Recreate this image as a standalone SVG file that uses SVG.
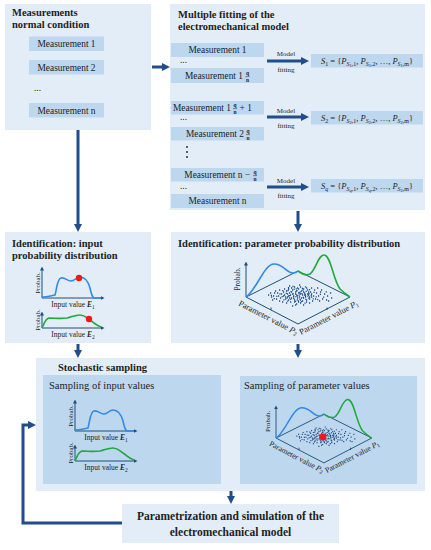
<svg xmlns="http://www.w3.org/2000/svg" xmlns:xlink="http://www.w3.org/1999/xlink" width="431" height="550" viewBox="0 0 431 550">
<style>
.box{fill:#e2edf8}
.mbox{fill:#bdd7ee}
.t{font-family:"Liberation Serif","Times New Roman",serif;fill:#1e1e1e}
.h{font-weight:bold;font-size:10.5px}
.m{font-size:9.4px}
.sm{font-size:7px}
.fr{font-size:5.5px;font-weight:bold}
.math{font-size:8.5px}
.it{font-style:italic}
.sb{font-size:6px}
.ssb{font-size:4.5px}
.conn{stroke:#1f4e8a;stroke-width:3;fill:none}
.ax{stroke:#1f4e79;stroke-width:1;fill:none}
.blue{stroke:#2f8ae8;stroke-width:1.6;fill:none}
.green{stroke:#1faa3c;stroke-width:1.6;fill:none}
.red{fill:#f01818}
.ct{font-size:7.5px}
</style>
<defs>
<marker id="ah" viewBox="0 0 8 8" refX="1" refY="4" markerWidth="8" markerHeight="8" markerUnits="userSpaceOnUse" orient="auto"><path d="M0 0L8 4L0 8z" fill="#1f4e8a"/></marker>
<marker id="sa" viewBox="0 0 8 8" refX="1" refY="4" markerWidth="4" markerHeight="4" markerUnits="userSpaceOnUse" orient="auto"><path d="M0 0L8 4L0 8z" fill="#1f4e79"/></marker>
<g id="ichart">
<path class="ax" d="M42 298V270" marker-end="url(#sa)"/>
<path class="ax" d="M42 298H101" marker-end="url(#sa)"/>
<path class="blue" d="M42 297C47 297 50 296 55 295C57 288 57 279 61 278C65 277 67 281 71 281C75 281 76 277 80 277C85 277 88 281 90 288C91 293 92 297 94 298L101 298"/>
<text class="t sm" transform="rotate(-90 39.5 283)" x="39.5" y="283" text-anchor="middle">Probab.</text>
<text class="t ct" x="73" y="307" text-anchor="middle">Input value <tspan class="it" font-weight="bold">E</tspan><tspan font-size="5.5" dy="1.5">1</tspan></text>
<path class="ax" d="M42 328V315" marker-end="url(#sa)"/>
<path class="ax" d="M42 328H101" marker-end="url(#sa)"/>
<path class="green" d="M42 328C44 324 45 319 49 318C55 318 60 319 67 318C72 317 75 315 80 315C85 315 87 318 90 320C94 323 97 326 101 327"/>
<text class="t sm" transform="rotate(-90 39.5 320)" x="39.5" y="320" text-anchor="middle">Probab.</text>
<text class="t ct" x="73" y="337" text-anchor="middle">Input value <tspan class="it" font-weight="bold">E</tspan><tspan font-size="5.5" dy="1.5">2</tspan></text>
</g>
<g id="pchart">
<path class="ax" d="M246 297L298 271L350 297L298 324Z"/>
<path class="ax" d="M271 310v-2.5M327 310v-2.5"/>
<path class="ax" d="M246 297V265" marker-end="url(#sa)"/>
<path class="blue" d="M246 297C256 291 264 264 274 264C284 264 286 273 293 273C295 273 297 272 298 271"/>
<path class="green" d="M298 271C302 274 306 276 310 274C316 270 318 255 324 255C331 255 333 280 340 289C344 293 347 295 350 297"/>
<path stroke="#1f4e8a" stroke-width="1.3" fill="none" d="M286 291h1.2M289 293h1.2M292 290h1.2M295 292h1.2M298 289h1.2M301 291h1.2M304 293h1.2M307 290h1.2M310 292h1.2M284 295h1.2M287 297h1.2M290 295h1.2M293 297h1.2M296 295h1.2M299 297h1.2M302 295h1.2M305 297h1.2M308 295h1.2M311 297h1.2M285 299h1.2M288 300h1.2M291 298h1.2M294 300h1.2M297 298h1.2M300 300h1.2M303 298h1.2M306 300h1.2M309 299h1.2M288 289h1.2M291 288h1.2M294 287h1.2M297 288h1.2M300 287h1.2M303 289h1.2M306 288h1.2M283 292h1.2M287 294h1.2M291 292h1.2M295 294h1.2M299 293h1.2M303 292h1.2M307 294h1.2M311 294h1.2M285 297h1.2M289 298h1.2M293 296h1.2M297 296h1.2M301 298h1.2M305 296h1.2M309 297h1.2M290 302h1.2M294 302h1.2M298 302h1.2M302 301h1.2M306 302h1.2M296 304h1.2M300 303h1.2M268 295h1.2M271 297h1.2M274 293h1.2M276 299h1.2M278 296h1.2M272 300h1.2M275 291h1.2M279 301h1.2M281 294h1.2M280 298h1.2M277 293h1.2M282 302h1.2M314 290h1.2M316 293h1.2M318 296h1.2M320 292h1.2M322 299h1.2M315 299h1.2M319 301h1.2M324 294h1.2M327 296h1.2M330 293h1.2M313 296h1.2M317 288h1.2M321 290h1.2M326 300h1.2M292 306h1.2M303 305h1.2M286 303h1.2M309 303h1.2M312 301h1.2M284 289h1.2M311 288h1.2M289 286h1.2M299 285h1.2M295 305h1.2M270 293h1.2M273 296h1.2M279 290h1.2M331 298h1.2M328 301h1.2M283 296h1.2M292 294h1.2M298 293h1.2M304 295h1.2M296 291h1.2M300 294h1.2M288 296h1.2M308 292h1.2M287.5 290.5h1.2M290.5 291.7h1.2M293.6 289.2h1.2M296.4 290.6h1.2M299.7 291.8h1.2M302.3 290.1h1.2M305.6 291.4h1.2M308.4 293.5h1.2M285.7 293.3h1.2M289.2 295.6h1.2M292.7 293.8h1.2M295.3 296.7h1.2M298.6 295.2h1.2M301.4 293.6h1.2M304.7 294.4h1.2M307.3 296.2h1.2M310.6 295.4h1.2M286.4 298.2h1.2M290.1 299.4h1.2M293.2 298.7h1.2M296.6 299.8h1.2M299.2 299.1h1.2M302.6 297.4h1.2M305.3 299.3h1.2M308.2 298.1h1.2M297.8 300.8h1.2M294.9 301.3h1.2M300.9 301.6h1.2M287.1 301.2h1.2M304.4 303.1h1.2M281.6 296.7h1.2M283.3 299.8h1.2M279.4 293.8h1.2M276.2 296.3h1.2M273.7 298.6h1.2M270.8 295.4h1.2M313.5 292.3h1.2M315.6 296.8h1.2M317.2 299.6h1.2M319.8 294.4h1.2M323.1 297.2h1.2M325.7 291.8h1.2M312.7 298.9h1.2M301.8 288.4h1.2M295.7 288.9h1.2M292.4 286.5h1.2M304.9 286.9h1.2M308.9 289.6h1.2M282.1 290.6h1.2M287.9 287.6h1.2"/>
<text class="t ct" transform="rotate(-90 239.5 279)" x="239.5" y="279" text-anchor="middle">Probab.</text>
<text class="t" font-size="8.5" transform="rotate(27.4 267 320)" x="267" y="320" text-anchor="middle">Parameter value <tspan class="it">P</tspan><tspan font-size="6" dy="1.5">2</tspan></text>
<text class="t" font-size="8.5" transform="rotate(-27.4 330 320)" x="330" y="320" text-anchor="middle">Parameter value <tspan class="it">P</tspan><tspan font-size="6" dy="1.5">1</tspan></text>
</g>
</defs>

<g id="measurements">
<rect class="box" x="5" y="4" width="146" height="126"/>
<text class="t h" x="12" y="15.5">Measurements</text>
<text class="t h" x="12" y="28">normal condition</text>
<rect class="mbox" x="29" y="36.5" width="75" height="14.5"/>
<text class="t m" x="66.5" y="46.8" text-anchor="middle">Measurement 1</text>
<rect class="mbox" x="29" y="60" width="75" height="14.5"/>
<text class="t m" x="66.5" y="70.5" text-anchor="middle">Measurement 2</text>
<text class="t m" x="34" y="91">...</text>
<rect class="mbox" x="29" y="103" width="75" height="14.5"/>
<text class="t m" x="66.5" y="113.5" text-anchor="middle">Measurement n</text>
</g>

<g id="multiple-fitting">
<rect class="box" x="170" y="4" width="255" height="206"/>
<text class="t h" x="178" y="17.5">Multiple fitting of the</text>
<text class="t h" x="178" y="30">electromechanical model</text>
<rect class="mbox" x="171" y="43" width="93" height="14"/>
<text class="t m" x="217.5" y="53.3" text-anchor="middle">Measurement 1</text>
<text class="t m" x="180" y="63">...</text>
<rect class="mbox" x="171" y="68" width="93" height="15"/>
<text class="t m" x="243" y="79" text-anchor="end">Measurement 1</text>
<text class="t fr" x="247.5" y="75" text-anchor="middle">q</text>
<path d="M245.5 76.6h4" stroke="#1e1e1e" stroke-width="0.5"/>
<text class="t fr" x="247.5" y="81.6" text-anchor="middle">n</text>
<text class="t sm" x="286" y="56" text-anchor="middle">Model</text>
<text class="t sm" x="286" y="72" text-anchor="middle">fitting</text>
<rect class="mbox" x="311" y="54" width="112" height="13.5"/>
<text class="t math" x="367" y="64" text-anchor="middle"><tspan class="it">S</tspan><tspan class="sb" dy="2">1</tspan><tspan dy="-2"> = {</tspan><tspan class="it">P</tspan><tspan class="sb it" dy="2">S</tspan><tspan class="ssb" dy="1">1</tspan><tspan class="sb" dy="-1">,1</tspan><tspan dy="-2">, </tspan><tspan class="it">P</tspan><tspan class="sb it" dy="2">S</tspan><tspan class="ssb" dy="1">1</tspan><tspan class="sb" dy="-1">,2</tspan><tspan dy="-2">, …, </tspan><tspan class="it">P</tspan><tspan class="sb it" dy="2">S</tspan><tspan class="ssb" dy="1">1</tspan><tspan class="sb" dy="-1">,m</tspan><tspan dy="-2">}</tspan></text>

<rect class="mbox" x="171" y="101" width="93" height="13.5"/>
<text class="t m" x="231" y="110.8" text-anchor="end">Measurement 1</text>
<text class="t fr" x="235" y="107" text-anchor="middle">q</text>
<path d="M233 108.6h4" stroke="#1e1e1e" stroke-width="0.5"/>
<text class="t fr" x="235" y="113.6" text-anchor="middle">n</text>
<text class="t m" x="239.5" y="110.8">+ 1</text>
<text class="t m" x="180" y="120">...</text>
<rect class="mbox" x="171" y="127" width="93" height="13.5"/>
<text class="t m" x="244" y="136.8" text-anchor="end">Measurement 2</text>
<text class="t fr" x="248" y="133" text-anchor="middle">q</text>
<path d="M246 134.6h4" stroke="#1e1e1e" stroke-width="0.5"/>
<text class="t fr" x="248" y="139.6" text-anchor="middle">n</text>
<text class="t sm" x="286" y="112.5" text-anchor="middle">Model</text>
<text class="t sm" x="286" y="128" text-anchor="middle">fitting</text>
<rect class="mbox" x="311" y="111" width="112" height="13.5"/>
<text class="t math" x="367" y="121" text-anchor="middle"><tspan class="it">S</tspan><tspan class="sb" dy="2">2</tspan><tspan dy="-2"> = {</tspan><tspan class="it">P</tspan><tspan class="sb it" dy="2">S</tspan><tspan class="ssb" dy="1">2</tspan><tspan class="sb" dy="-1">,1</tspan><tspan dy="-2">, </tspan><tspan class="it">P</tspan><tspan class="sb it" dy="2">S</tspan><tspan class="ssb" dy="1">2</tspan><tspan class="sb" dy="-1">,2</tspan><tspan dy="-2">, …, </tspan><tspan class="it">P</tspan><tspan class="sb it" dy="2">S</tspan><tspan class="ssb" dy="1">2</tspan><tspan class="sb" dy="-1">,m</tspan><tspan dy="-2">}</tspan></text>

<circle cx="187" cy="147" r="0.9" fill="#1e1e1e"/>
<circle cx="187" cy="152" r="0.9" fill="#1e1e1e"/>
<circle cx="187" cy="157" r="0.9" fill="#1e1e1e"/>

<rect class="mbox" x="171" y="168" width="93" height="13.5"/>
<text class="t m" x="250" y="177.8" text-anchor="end">Measurement n −</text>
<text class="t fr" x="255" y="174" text-anchor="middle">q</text>
<path d="M253 175.6h4" stroke="#1e1e1e" stroke-width="0.5"/>
<text class="t fr" x="255" y="180.6" text-anchor="middle">n</text>
<text class="t m" x="180" y="189">...</text>
<rect class="mbox" x="171" y="194" width="93" height="14"/>
<text class="t m" x="217.5" y="204.3" text-anchor="middle">Measurement n</text>
<text class="t sm" x="286" y="183" text-anchor="middle">Model</text>
<text class="t sm" x="286" y="198" text-anchor="middle">fitting</text>
<rect class="mbox" x="311" y="179" width="112" height="13.5"/>
<text class="t math" x="367" y="189" text-anchor="middle"><tspan class="it">S</tspan><tspan class="sb it" dy="2">q</tspan><tspan dy="-2"> = {</tspan><tspan class="it">P</tspan><tspan class="sb it" dy="2">S</tspan><tspan class="ssb it" dy="1">q</tspan><tspan class="sb" dy="-1">,1</tspan><tspan dy="-2">, </tspan><tspan class="it">P</tspan><tspan class="sb it" dy="2">S</tspan><tspan class="ssb it" dy="1">q</tspan><tspan class="sb" dy="-1">,2</tspan><tspan dy="-2">, …, </tspan><tspan class="it">P</tspan><tspan class="sb it" dy="2">S</tspan><tspan class="ssb" dy="1">2</tspan><tspan class="sb" dy="-1">,m</tspan><tspan dy="-2">}</tspan></text>
</g>

<g id="ident-input">
<rect class="box" x="5" y="232" width="146" height="111"/>
<text class="t h" x="12" y="247">Identification: input</text>
<text class="t h" x="12" y="259">probability distribution</text>
<use xlink:href="#ichart" href="#ichart"/>
<circle class="red" cx="79" cy="278" r="3.2"/>
<circle class="red" cx="89" cy="319" r="3.2"/>
</g>

<g id="ident-param">
<rect class="box" x="171" y="232" width="254" height="111"/>
<text class="t h" x="178" y="246.5">Identification: parameter probability distribution</text>
<use xlink:href="#pchart" href="#pchart"/>
</g>

<g id="stochastic">
<rect class="box" x="36" y="358" width="389" height="133"/>
<text class="t h" x="58" y="371">Stochastic sampling</text>
<rect class="mbox" x="43" y="375" width="178" height="109"/>
<text class="t" font-size="10.5" x="49" y="388.5">Sampling of input values</text>
<use xlink:href="#ichart" href="#ichart" transform="translate(33 133)"/>
<rect class="mbox" x="240" y="376" width="177" height="108"/>
<text class="t" font-size="10.5" x="244" y="388.5">Sampling of parameter values</text>
<g transform="translate(49.7 164.8) scale(0.92)">
<use xlink:href="#pchart" href="#pchart"/>
<circle class="red" cx="297" cy="296" r="3.8"/>
</g>
</g>

<g id="simulation">
<rect class="box" x="122" y="504" width="217" height="39"/>
<text class="t" font-weight="bold" font-size="11.5" x="230.5" y="520" text-anchor="middle">Parametrization and simulation of the</text>
<text class="t" font-weight="bold" font-size="11.5" x="230.5" y="535.5" text-anchor="middle">electromechanical model</text>
</g>

<g id="connectors">
<path class="conn" d="M152 67H163" marker-end="url(#ah)"/>
<path class="conn" d="M78 130V225" marker-end="url(#ah)"/>
<path class="conn" d="M267 61H302" marker-end="url(#ah)"/>
<path class="conn" d="M267 117H302" marker-end="url(#ah)"/>
<path class="conn" d="M267 187H302" marker-end="url(#ah)"/>
<path class="conn" d="M298 211V225" marker-end="url(#ah)"/>
<path class="conn" d="M78 344V351" marker-end="url(#ah)"/>
<path class="conn" d="M298 344V351" marker-end="url(#ah)"/>
<path class="conn" d="M231 491V497" marker-end="url(#ah)"/>
<path class="conn" d="M122 523H23V425H29" marker-end="url(#ah)"/>
</g>
</svg>
